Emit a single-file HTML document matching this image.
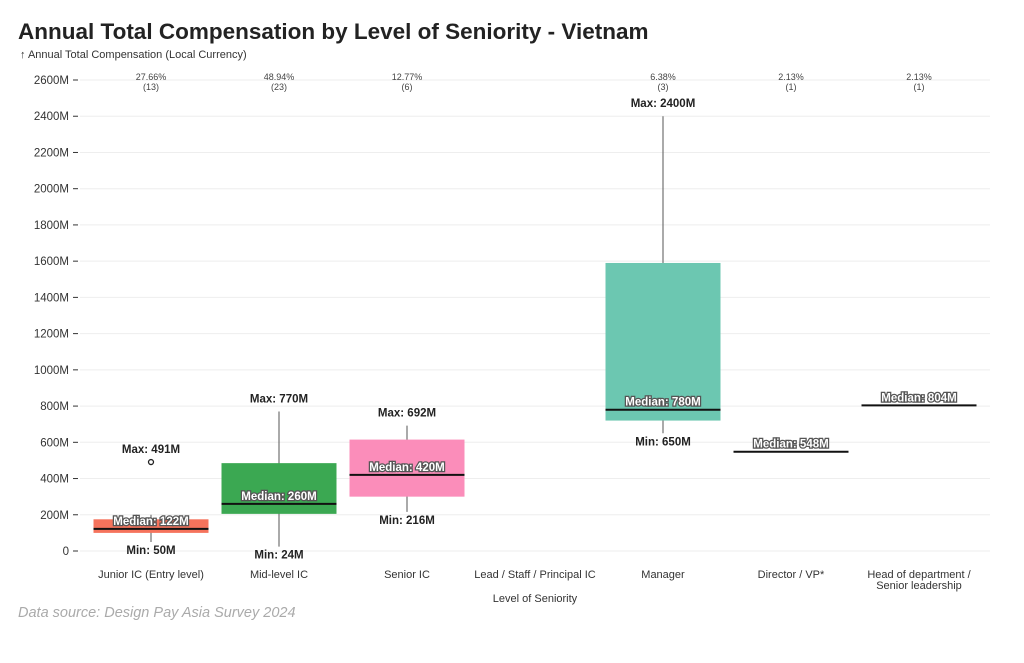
<!DOCTYPE html>
<html><head><meta charset="utf-8"><style>
body{margin:0;background:#fff;font-family:"Liberation Sans",sans-serif;}
svg text{font-family:"Liberation Sans",sans-serif;}
</style></head><body>
<svg id="chart" width="1024" height="658">
<text x="18" y="39" font-size="22.5" font-weight="bold" fill="#222">Annual Total Compensation by Level of Seniority - Vietnam</text>
<text x="20" y="58" font-size="11" fill="#333">↑ Annual Total Compensation (Local Currency)</text>
<text x="535" y="602" font-size="11" fill="#333" text-anchor="middle">Level of Seniority</text>
<text x="18" y="617" font-size="14.5" font-style="italic" fill="#aaa">Data source: Design Pay Asia Survey 2024</text>
<g id="grid"></g><g id="marks"></g>
</svg>
<script>
const categories=["Junior IC (Entry level)","Mid-level IC","Senior IC","Lead / Staff / Principal IC","Manager","Director / VP*","Head of department / Senior leadership"];
const pct=["27.66%","48.94%","12.77%","","6.38%","2.13%","2.13%"];
const counts=["(13)","(23)","(6)","","(3)","(1)","(1)"];
const mins=[50,24,216,null,650,548,804];
const q1s=[100,205,300,null,720,548,804];
const medians=[122,260,420,null,780,548,804];
const q3s=[175,485,615,null,1590,548,804];
const whiskerTops=[200,770,692,null,2400,548,804];
const maxLabels=[491,770,692,null,2400,null,null];
const outliers=[[491],[],[],[],[],[],[]];
const colors=["#f5735c","#3ba852","#fb8dba","","#6cc7b1","",""];
const yTicks=[0,200,400,600,800,1000,1200,1400,1600,1800,2000,2200,2400,2600];
const NS="http://www.w3.org/2000/svg";
const y=v=>551-v*(471/2600);
const x=i=>151+i*128;
function mk(tag,attrs,parent,txt){const e=document.createElementNS(NS,tag);for(const k in attrs)e.setAttribute(k,attrs[k]);if(txt!=null)e.textContent=txt;parent.appendChild(e);return e;}
const G=document.getElementById('grid'),M=document.getElementById('marks');
yTicks.forEach(t=>{
 const l=mk('line',{x1:80,x2:990,y1:y(t),y2:y(t),stroke:'#eee'},G);
 
 mk('line',{x1:73,x2:78,y1:y(t),y2:y(t),stroke:'#333'},G);
 const tx=mk('text',{x:69,y:y(t)+4,'font-size':11.5,'text-anchor':'end',fill:'#333'},G,t===0?'0':t+'M');
 
});
categories.forEach((c,i)=>{
 const cx=x(i);
 const lines=c==="Head of department / Senior leadership"?["Head of department /","Senior leadership"]:[c];
 lines.forEach((s,k)=>{const t=mk('text',{x:cx,y:578+k*11,'font-size':11,'text-anchor':'middle',fill:'#333'},G,s);
  });
 if(pct[i]){
  const p=mk('text',{x:cx,y:80,'font-size':9,'text-anchor':'middle',fill:'#444'},G,pct[i]);
  
  mk('text',{x:cx,y:90,'font-size':9,'text-anchor':'middle',fill:'#444'},G,counts[i]);
 }
 if(medians[i]==null)return;
 const g=mk('g',{},M);
 
 const w=115;
 mk('line',{x1:cx,x2:cx,y1:y(mins[i]),y2:y(whiskerTops[i]),stroke:'#555'},g);
 if(colors[i]) mk('rect',{x:cx-w/2,y:y(q3s[i]),width:w,height:y(q1s[i])-y(q3s[i]),fill:colors[i]},g);
 mk('line',{x1:cx-w/2,x2:cx+w/2,y1:y(medians[i]),y2:y(medians[i]),stroke:'#111','stroke-width':2},g);
 const ml=mk('text',{x:cx,y:y(medians[i])-4,'font-size':11.5,'font-weight':'bold','text-anchor':'middle',fill:'#fff',stroke:'#555','stroke-width':2.5,'paint-order':'stroke'},g,'Median: '+medians[i]+'M');
 
 outliers[i].forEach(o=>mk('circle',{cx:cx,cy:y(o),r:2.5,fill:'#fff',stroke:'#222','stroke-width':1.3},g));
 if(maxLabels[i]!=null){const t=mk('text',{x:cx,y:y(maxLabels[i])-9,'font-size':11.5,'font-weight':'bold','text-anchor':'middle',fill:'#222'},g,'Max: '+maxLabels[i]+'M');
  }
 if(colors[i]){const t=mk('text',{x:cx,y:y(mins[i])+12,'font-size':11.5,'font-weight':'bold','text-anchor':'middle',fill:'#222'},g,'Min: '+mins[i]+'M');
  }
});
</script>
</body></html>
